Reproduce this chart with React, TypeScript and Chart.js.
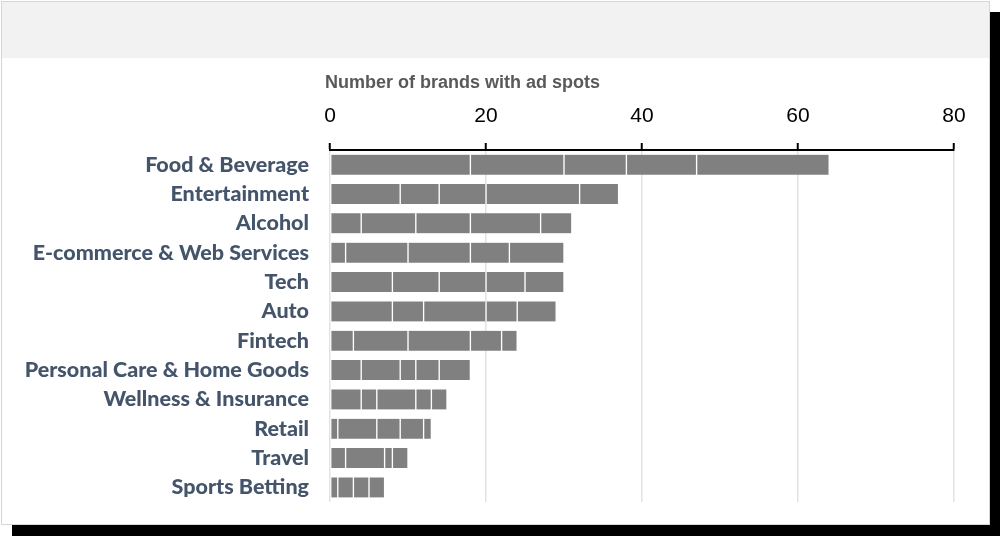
import React, { useEffect, useRef } from "react";
import { Chart, registerables } from "chart.js";

Chart.register(...registerables);

const categories = [
  "Food & Beverage",
  "Entertainment",
  "Alcohol",
  "E-commerce & Web Services",
  "Tech",
  "Auto",
  "Fintech",
  "Personal Care & Home Goods",
  "Wellness & Insurance",
  "Retail",
  "Travel",
  "Sports Betting",
];

const seg1 = [18, 9, 4, 2, 8, 8, 3, 4, 4, 1, 2, 1];
const seg2 = [12, 5, 7, 8, 6, 4, 7, 5, 2, 5, 5, 2];
const seg3 = [8, 6, 7, 8, 6, 8, 8, 2, 5, 3, 1, 2];
const seg4 = [9, 12, 9, 5, 5, 4, 4, 3, 2, 3, 2, 2];
const seg5 = [17, 5, 4, 7, 5, 5, 2, 4, 2, 1, null, null];

const xTicks = [0, 20, 40, 60, 80];
const axisTitle = "Number of brands with ad spots";

export default function App() {
  const ref = useRef<HTMLCanvasElement | null>(null);

  useEffect(() => {
    if (!ref.current) return;
    const segs = [seg1, seg2, seg3, seg4, seg5];
    const titlePlugin = {
      id: "axisTitle",
      afterDraw(chart: any) {
        const ctx = chart.ctx;
        ctx.save();
        ctx.font = 'bold 18px "Liberation Sans", Arial, sans-serif';
        ctx.fillStyle = "#595959";
        ctx.textBaseline = "alphabetic";
        ctx.textAlign = "left";
        ctx.fillText(axisTitle, 325, 88);
        ctx.restore();
      },
    };
    const chart = new Chart(ref.current, {
      type: "bar",
      data: {
        labels: categories,
        datasets: segs.map((d, i) => ({
          label: "Segment " + (i + 1),
          data: d as any,
          backgroundColor: "#808080",
          borderColor: "#ffffff",
          borderWidth: { left: 1, right: 1, top: 0, bottom: 0 } as any,
          borderSkipped: false as any,
          barThickness: 20,
        })),
      },
      options: {
        indexAxis: "y",
        animation: false,
        responsive: false,
        devicePixelRatio: 1,
        layout: { padding: { left: 0, right: 46, top: 0, bottom: 31 } },
        plugins: {
          legend: { display: false },
          tooltip: { enabled: false },
          title: { display: false },
        },
        scales: {
          x: {
            position: "top",
            stacked: true,
            min: 0,
            max: 80,
            afterFit: (scale: any) => {
              scale.height = 150;
            },
            afterBuildTicks: (scale: any) => {
              scale.ticks = xTicks.map((v) => ({ value: v }));
            },
            ticks: {
              stepSize: 20,
              padding: 14,
              color: "#000000",
              font: { family: '"Liberation Sans", Arial, sans-serif', size: 21 },
            },
            grid: {
              color: "#e3e3e3",
              lineWidth: 1.5,
              tickColor: "#000000",
              tickLength: 7,
              tickWidth: 2,
              drawTicks: true,
            },
            border: { display: true, color: "#000000", width: 2 },
          },
          y: {
            stacked: true,
            afterFit: (scale: any) => {
              scale.width = 330;
            },
            ticks: {
              padding: 21,
              color: "#44546a",
              font: { family: "Lato, sans-serif", size: 21.5, weight: 900 },
            },
            grid: { display: false, drawTicks: false },
            border: { display: false },
          },
        },
      },
      plugins: [titlePlugin],
    } as any);
    return () => chart.destroy();
  }, []);

  return (
    <div style={{ position: "absolute", left: 0, top: 0, width: 1000, height: 536, background: "#ffffff", overflow: "hidden" }}>
      <div
        style={{
          position: "absolute",
          left: 1,
          top: 1,
          width: 989,
          height: 524,
          boxSizing: "border-box",
          border: "1px solid #d6d6d6",
          background: "#ffffff",
          boxShadow: "11px 11px 0 #000000",
        }}
      >
        <div style={{ position: "absolute", left: 0, top: 0, right: 0, height: 56, background: "#f2f2f2" }} />
      </div>
      <canvas
        ref={ref}
        width={1000}
        height={536}
        style={{ position: "absolute", left: 0, top: 0, width: 1000, height: 536 }}
      />
    </div>
  );
}
